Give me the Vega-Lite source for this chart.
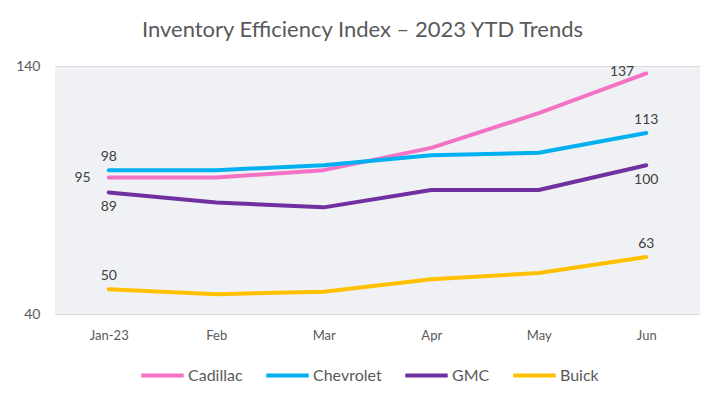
{
  "$schema": "https://vega.github.io/schema/vega-lite/v6.json",
  "autosize": {"type": "none"},
  "width": 645,
  "height": 248,
  "padding": {"left": 55, "top": 66, "right": 28, "bottom": 88},
  "background": "#ffffff",
  "config": {
    "font": "Lato",
    "view": {"fill": "#F0F1F5", "stroke": null}
  },
  "title": {
    "text": "Inventory Efficiency Index – 2023 YTD Trends",
    "fontSize": 22,
    "fontWeight": "normal",
    "color": "#595959",
    "anchor": "middle",
    "dx": -15,
    "offset": 17
  },
  "data": {
    "values": [
      {"month": "Jan-23", "brand": "Cadillac", "value": 95},
      {"month": "Feb", "brand": "Cadillac", "value": 95},
      {"month": "Mar", "brand": "Cadillac", "value": 98},
      {"month": "Apr", "brand": "Cadillac", "value": 107},
      {"month": "May", "brand": "Cadillac", "value": 121},
      {"month": "Jun", "brand": "Cadillac", "value": 137},
      {"month": "Jan-23", "brand": "Chevrolet", "value": 98},
      {"month": "Feb", "brand": "Chevrolet", "value": 98},
      {"month": "Mar", "brand": "Chevrolet", "value": 100},
      {"month": "Apr", "brand": "Chevrolet", "value": 104},
      {"month": "May", "brand": "Chevrolet", "value": 105},
      {"month": "Jun", "brand": "Chevrolet", "value": 113},
      {"month": "Jan-23", "brand": "GMC", "value": 89},
      {"month": "Feb", "brand": "GMC", "value": 85},
      {"month": "Mar", "brand": "GMC", "value": 83},
      {"month": "Apr", "brand": "GMC", "value": 90},
      {"month": "May", "brand": "GMC", "value": 90},
      {"month": "Jun", "brand": "GMC", "value": 100},
      {"month": "Jan-23", "brand": "Buick", "value": 50},
      {"month": "Feb", "brand": "Buick", "value": 48},
      {"month": "Mar", "brand": "Buick", "value": 49},
      {"month": "Apr", "brand": "Buick", "value": 54},
      {"month": "May", "brand": "Buick", "value": 56.5},
      {"month": "Jun", "brand": "Buick", "value": 63}
    ]
  },
  "encoding": {
    "x": {
      "field": "month",
      "type": "ordinal",
      "sort": ["Jan-23", "Feb", "Mar", "Apr", "May", "Jun"],
      "scale": {"type": "point", "padding": 0.5},
      "title": null,
      "axis": {
        "labelAngle": 0,
        "labelFontSize": 13,
        "labelColor": "#595959",
        "labelPadding": 15,
        "ticks": false,
        "domain": false,
        "grid": false
      }
    },
    "y": {
      "field": "value",
      "type": "quantitative",
      "scale": {"domain": [40, 140], "nice": false, "zero": false},
      "title": null,
      "axis": {
        "values": [40, 140],
        "labelFontSize": 14,
        "labelColor": "#595959",
        "labelPadding": 15,
        "ticks": false,
        "domain": false,
        "grid": true,
        "gridColor": "#D9D9D9",
        "gridWidth": 1
      }
    }
  },
  "layer": [
    {
      "mark": {"type": "line", "strokeWidth": 4, "strokeCap": "round", "strokeJoin": "round"},
      "encoding": {
        "color": {
          "field": "brand",
          "type": "nominal",
          "sort": ["Cadillac", "Chevrolet", "GMC", "Buick"],
          "scale": {
            "domain": ["Cadillac", "Chevrolet", "GMC", "Buick"],
            "range": ["#F472C4", "#00B0F0", "#7030A0", "#FFC000"]
          },
          "title": null,
          "legend": {
            "orient": "none",
            "direction": "horizontal",
            "gridAlign": "none",
            "legendX": 84,
            "legendY": 286,
            "symbolType": "stroke",
            "symbolSize": 1800,
            "symbolStrokeWidth": 4,
            "labelFontSize": 16,
            "labelColor": "#595959",
            "labelOffset": 2,
            "columnPadding": 15
          }
        }
      }
    },
    {
      "transform": [
        {"filter": "(datum.brand === 'Chevrolet' || datum.brand === 'Buick') && (datum.month === 'Jan-23' || datum.month === 'Jun')"}
      ],
      "mark": {"type": "text", "fontSize": 14, "color": "#404040", "dy": -13, "baseline": "middle"},
      "encoding": {"text": {"field": "value", "type": "quantitative"}}
    },
    {
      "transform": [
        {"filter": "datum.brand === 'GMC' && (datum.month === 'Jan-23' || datum.month === 'Jun')"}
      ],
      "mark": {"type": "text", "fontSize": 14, "color": "#404040", "dy": 15, "baseline": "middle"},
      "encoding": {"text": {"field": "value", "type": "quantitative"}}
    },
    {
      "transform": [
        {"filter": "datum.brand === 'Cadillac' && datum.month === 'Jan-23'"}
      ],
      "mark": {"type": "text", "fontSize": 14, "color": "#404040", "dx": -18, "align": "right", "baseline": "middle"},
      "encoding": {"text": {"field": "value", "type": "quantitative"}}
    },
    {
      "transform": [
        {"filter": "datum.brand === 'Cadillac' && datum.month === 'Jun'"}
      ],
      "mark": {"type": "text", "fontSize": 14, "color": "#404040", "dx": -12, "dy": -1, "align": "right", "baseline": "middle"},
      "encoding": {"text": {"field": "value", "type": "quantitative"}}
    }
  ]
}
